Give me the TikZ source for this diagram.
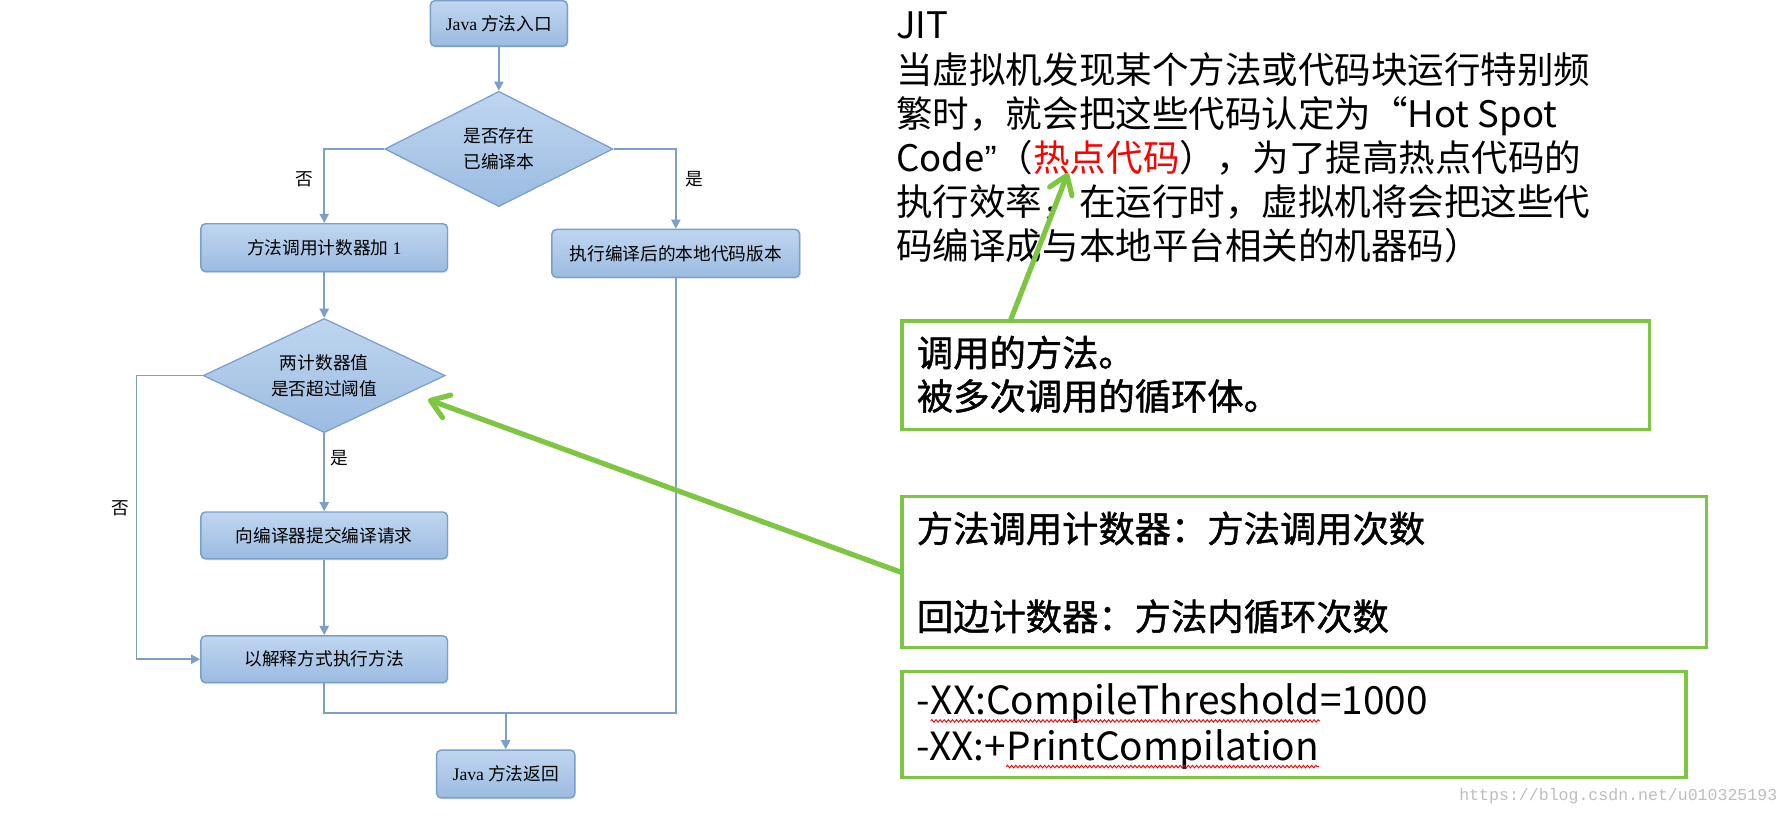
\documentclass[tikz,border=0pt]{standalone}
\usepackage{fontspec}
\setmainfont{Noto Sans CJK SC}
\newfontfamily\lserif{Liberation Serif}
\newfontfamily\lsans{Liberation Sans}
\newfontfamily\lmono{Liberation Mono}
\newfontfamily\cjkbold[FakeBold=1.2]{Noto Sans CJK SC}
\usetikzlibrary{arrows.meta,shapes.geometric,decorations.pathmorphing,shadows,calc}

\definecolor{boxtop}{RGB}{192,214,240}
\definecolor{boxbot}{RGB}{155,187,225}
\definecolor{boxline}{RGB}{124,159,201}
\definecolor{jitgreen}{RGB}{125,198,66}
\definecolor{wmgray}{RGB}{190,190,190}

\newcommand\flowsz{\fontsize{15.5pt}{22.5pt}\selectfont}
\newcommand\bigsz{\fontsize{32pt}{38.7pt}\selectfont}
\newcommand\gsz{\fontsize{31.8pt}{38pt}\selectfont}
\newcommand\csz{\fontsize{34pt}{40pt}\selectfont}

\begin{document}
\begin{tikzpicture}[x=1pt,y=-1pt,
  fbox/.style={draw=boxline, line width=1.3pt, rounded corners=4pt,
    top color=boxtop, bottom color=boxbot, inner sep=0pt, font=\flowsz,
    drop shadow={opacity=0.12, shadow xshift=1pt, shadow yshift=-1.5pt}},
  fdia/.style={diamond, aspect=2, draw=boxline, line width=1.1pt,
    top color=boxtop, bottom color=boxbot, inner sep=0pt, align=center, font=\flowsz},
  flow/.style={draw=boxline, line width=1.5pt, -{Triangle[width=8pt,length=8pt]}},
  fline/.style={draw=boxline, line width=1.5pt},
  lbl/.style={font=\flowsz, inner sep=0pt},
  txt/.style={font=\bigsz, anchor=base west, inner sep=0pt},
  gbox/.style={draw=jitgreen, line width=3pt, inner sep=0pt},
  gtxt/.style={font=\gsz\cjkbold, anchor=base west, inner sep=0pt},
  ctxt/.style={font=\csz, anchor=base west, inner sep=0pt},
  squig/.style={draw=red, line width=0.8pt, decorate, decoration={snake, amplitude=1.1pt, segment length=3.6pt}},
  garrow/.style={draw=jitgreen, line width=4.5pt, line cap=round,
    -{Straight Barb[length=15pt, width=21pt, line cap=round, line join=round]}}
]
\useasboundingbox (0,0) rectangle (1568,714.8);
\fill[white] (0,0) rectangle (1568,714.8);

% ---------- flowchart ----------
\node[fbox, minimum width=120pt, minimum height=40pt] (A) at (437,20.5) {{\lserif Java} 方法入口};
\node[fdia, minimum width=200pt, minimum height=101pt] (D1) at (437,130.5) {是否存在\\已编译本};
\node[fbox, minimum width=216pt, minimum height=42pt] (B) at (284,217) {方法调用计数器加 {\lserif 1}};
\node[fbox, minimum width=217pt, minimum height=42pt] (C) at (592,222) {执行编译后的本地代码版本};
\node[fdia, minimum width=212pt, minimum height=100pt] (D2) at (284,329) {两计数器值\\是否超过阈值};
\node[fbox, minimum width=216pt, minimum height=41pt] (D) at (284,469) {向编译器提交编译请求};
\node[fbox, minimum width=216pt, minimum height=41pt] (E) at (284,577.5) {以解释方式执行方法};
\node[fbox, minimum width=121pt, minimum height=42pt] (F) at (443,678) {{\lserif Java} 方法返回};

\draw[flow] (A.south) -- (D1.north);
\draw[flow] (D1.west) -| (B.north);
\draw[flow] (D1.east) -| (C.north);
\draw[flow] (B.south) -- (D2.north);
\draw[flow] (D2.west) -- ++(-58,0) |- (E.west);
\draw[flow] (D2.south) -- (D.north);
\draw[flow] (D.south) -- (E.north);
\draw[fline] (E.south) -- ++(0,26) -| (C.south);
\coordinate (J) at (443,624);
\draw[flow] (J) -- (F.north);

\node[lbl] (n1) at (267,157) {否};
\node[lbl] (y1) at (608,157) {是};
\node[lbl] (y2) at (297,401) {是};
\node[lbl] (n2) at (105,445) {否};

% ---------- JIT text ----------
\node[txt] (j0) at (785,34) {JIT};
\node[txt] (j1) at (785,73.5) {当虚拟机发现某个方法或代码块运行特别频};
\node[txt] (j2) at (785,112) {繁时，就会把这些代码认定为“Hot Spot};
\node[txt] (j3) at (785,150.5) {Code{\lsans ”}（{\color{red}热点代码}），为了提高热点代码的};
\node[txt] (j4) at (785,189) {执行效率，在运行时，虚拟机将会把这些代};
\node[txt] (j5) at (785,227.5) {码编译成与本地平台相关的机器码）};

% ---------- green boxes ----------
\node[gbox, minimum width=655pt, minimum height=95pt] (G1) at (1117.5,328.5) {};
\node[gtxt] (g1a) at (803,321) {调用的方法。};
\node[gtxt] (g1b) at (803,359) {被多次调用的循环体。};

\node[gbox, minimum width=705pt, minimum height=132pt] (G2) at (1142.5,501) {};
\node[gtxt] (g2a) at (803,475) {方法调用计数器：方法调用次数};
\node[gtxt] (g2b) at (803,552) {回边计数器：方法内循环次数};

\node[gbox, minimum width=687pt, minimum height=93pt] (G3) at (1133.5,634.5) {};
\node[ctxt] (c1a) at (803,626) {-};
\node[ctxt, anchor=base west] (c1b) at (c1a.base east) {XX:CompileThreshold};
\node[ctxt, anchor=base west] (c1c) at (c1b.base east) {=1000};
\node[ctxt] (c2a) at (803,666) {-XX:+};
\node[ctxt, anchor=base west] (c2b) at (c2a.base east) {PrintCompilation};
\draw[squig] ($(c1b.base west)+(0,5.5)$) -- ($(c1b.base east)+(0,5.5)$);
\draw[squig] ($(c2b.base west)+(0,5.5)$) -- ($(c2b.base east)+(0,5.5)$);

% ---------- green arrows ----------
\coordinate (a1e) at (375,350);
\draw[garrow] (G2.west) -- (a1e);
\coordinate (a2s) at (885,281);
\coordinate (a2e) at (935.5,151.5);
\draw[garrow] (a2s) -- (a2e);

% ---------- watermark ----------
\node[font=\lmono\fontsize{14.5pt}{16pt}\selectfont, text=wmgray, anchor=base east, inner sep=0pt] (wm) at (1557,701) {https://blog.csdn.net/u010325193};
\end{tikzpicture}
\end{document}
